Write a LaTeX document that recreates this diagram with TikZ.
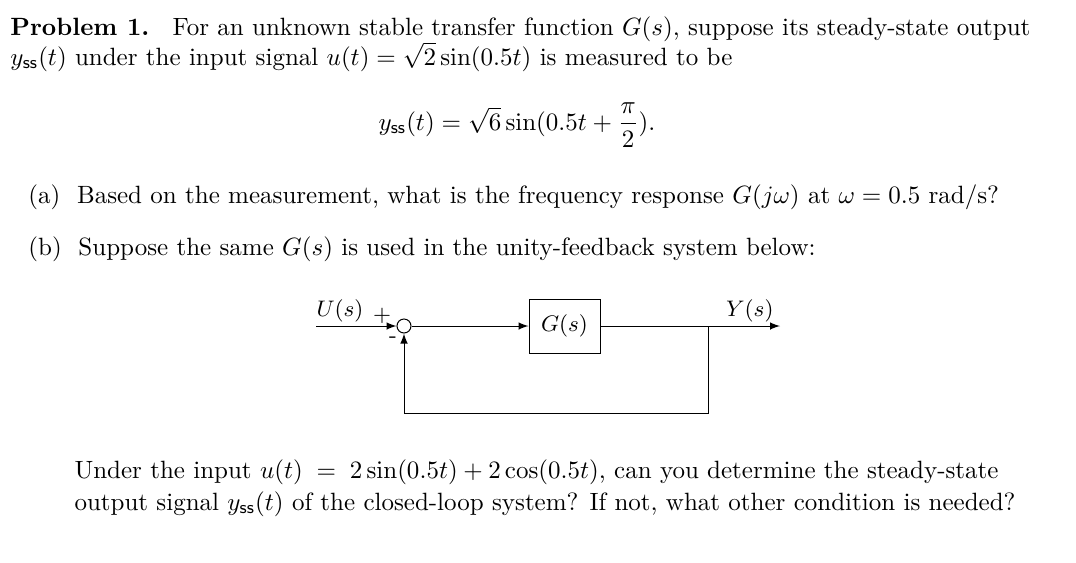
\documentclass[tikz,border=0pt]{standalone}
\usepackage{amsmath}
\begin{document}
\begin{tikzpicture}[x=0.40pt,y=-0.40pt,
  txt/.style={anchor=base west,inner sep=0pt},
  blk/.style={draw,minimum width=71*0.40pt,minimum height=54*0.40pt,inner sep=0pt},
  sumc/.style={draw,circle,minimum size=14*0.40pt,inner sep=0pt},
  >=latex]
\newcommand{\yss}{y_{\textsf{ss}}}
\useasboundingbox (0,0) rectangle (1076,562);
\node[txt] (p1) at (10,35) {\textbf{Problem 1.}};
\node[txt] (l1) at (172,35) {For an unknown stable transfer function $G(s)$, suppose its steady-state output};
\node[txt] (l2) at (10,65) {$\yss(t)$ under the input signal $u(t)=\sqrt{2}\sin(0.5t)$ is measured to be};
\node[txt] (eq) at (378,130) {$\yss(t)=\sqrt{6}\sin(0.5t+\dfrac{\pi}{2}).$};
\node[txt] (qa) at (28,203) {(a)\ \ Based on the measurement, what is the frequency response $G(j\omega)$ at $\omega=0.5$ rad/s?};
\node[txt] (qb) at (28,255) {(b)\ \ Suppose the same $G(s)$ is used in the unity-feedback system below:};
\node[txt] (m1) at (74,478) {Under the input $u(t)\;=\;2\sin(0.5t)+2\cos(0.5t)$, can you determine the steady-state};
\node[txt] (m2) at (74,510) {output signal $\yss(t)$ of the closed-loop system? If not, what other condition is needed?};
% diagram
\coordinate (in) at (316,326);
\node[sumc] (s) at (404,326) {};
\node[blk] (g) at (564.5,326) {\small $G(s)$};
\coordinate (br) at (708,326);
\coordinate (out) at (780,326);
\coordinate (bl) at (708,413);
\coordinate (bb) at (404,413);
\node[font=\small,anchor=base west,inner sep=0pt] (ul) at (316,316) {$U(s)$};
\node[font=\small,anchor=base east,inner sep=0pt] (yl) at (774,316) {$Y(s)$};
\node[font=\small,inner sep=0pt] (pl) at (382,316) {$+$};
\node[font=\small,inner sep=0pt] (ml) at (393,340) {-};
\draw[->] (in) -- (s.west);
\draw[->] (s.east) -- (g.west);
\draw[->] (g.east) -- (out);
\draw[->] (br) -- (bl) -- (bb) -- (s.south);
\end{tikzpicture}
\end{document}
